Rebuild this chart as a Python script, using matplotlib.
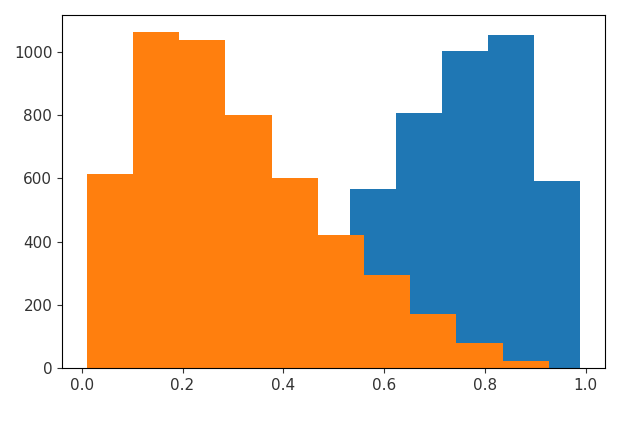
import numpy as np
import matplotlib
matplotlib.use("Agg")
import matplotlib.pyplot as plt

# bin edges (10 bins each)
blue_start, blue_stop = 0.077, 0.989
orange_start, orange_stop = 0.010, 0.927

# counts per bin, low to high x
blue_counts = [22, 78, 170, 293, 410, 565, 806, 1002, 1054, 590]
orange_counts = [613, 1064, 1038, 801, 600, 422, 293, 170, 78, 22]

blue_edges = np.linspace(blue_start, blue_stop, len(blue_counts) + 1)
orange_edges = np.linspace(orange_start, orange_stop, len(orange_counts) + 1)

fig, ax = plt.subplots(figsize=(6.4, 4.23), dpi=100)
fig.subplots_adjust(left=0.097, right=0.945, top=0.965, bottom=0.13)

ax.hist(blue_edges[:-1], bins=blue_edges, weights=blue_counts, color="#1f77b4")
ax.hist(orange_edges[:-1], bins=orange_edges, weights=orange_counts, color="#ff7f0e")
ax.tick_params(labelsize=11, colors="#333333", labelcolor="#333333")

fig.savefig("out.png")
